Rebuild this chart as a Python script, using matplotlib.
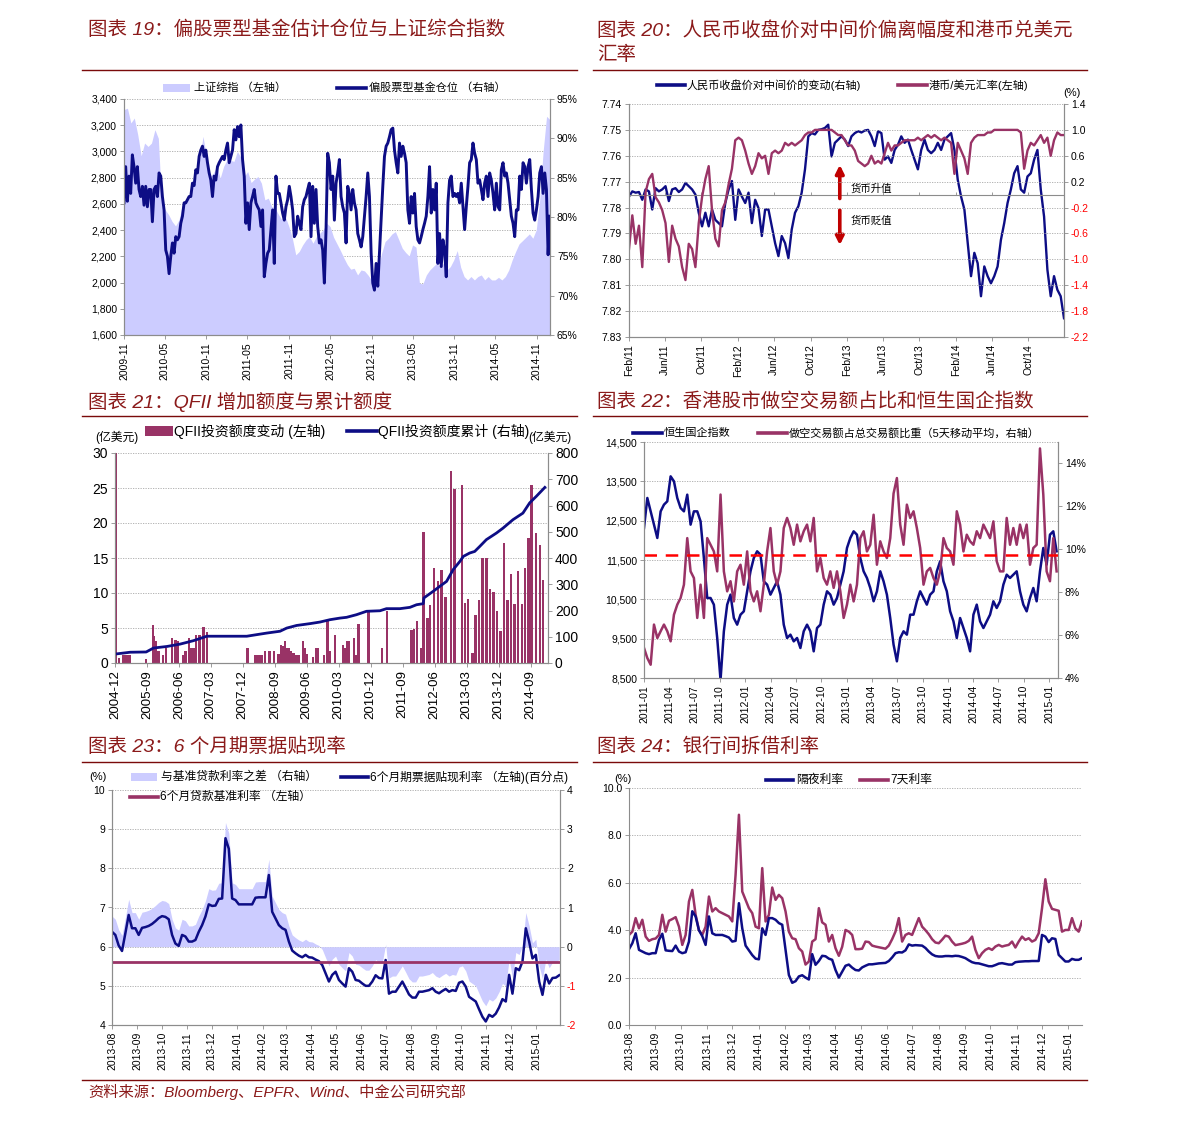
import numpy as np
import pandas as pd
import matplotlib
import matplotlib.pyplot as plt
import matplotlib.dates as mdates
from matplotlib.lines import Line2D
from matplotlib.patches import Rectangle

matplotlib.use('Agg')
plt.rcParams['font.family'] = ['Liberation Sans', 'Noto Sans CJK SC']
plt.rcParams['axes.unicode_minus'] = False

# ---------------- data ----------------
# Chart 19: Shanghai composite (semi-monthly) and equity fund position (weekly)
p19_sse = [3319, 3330, 3217, 3255, 3128, 2967, 3064, 3038, 3064, 3166,
           3100, 2580, 2555, 2517, 2466, 2432, 2478, 2593, 2631, 2652,
           2746, 2809, 2937, 3115, 2962, 2809, 2835, 2886, 2797, 2886,
           2937, 2932, 2924, 3000, 2955, 2809, 2847, 2763, 2789, 2809,
           2758, 2631, 2644, 2580, 2567, 2517, 2478, 2499, 2427, 2338,
           2211, 2237, 2287, 2326, 2351, 2300, 2351, 2377, 2402, 2453,
           2427, 2346, 2295, 2244, 2188, 2137, 2102, 2109, 2058, 2096,
           2089, 2058, 2020, 2020, 2109, 2224, 2313, 2338, 2371, 2389,
           2326, 2262, 2229, 2203, 2287, 2270, 1995, 1990, 2058, 2096,
           2122, 2147, 2122, 2147, 2096, 2122, 2173, 2244, 2117, 2046,
           2020, 2046, 2020, 2046, 2058, 2020, 2046, 2020, 2020, 2040,
           2020, 2046, 2096, 2173, 2237, 2295, 2320, 2346, 2371, 2338,
           2402, 2631, 3000, 3268, 3242]
p19_fund = [81.8, 86.4, 82.0, 85.2, 83.0, 87.9, 86.4, 84.3, 86.4, 83.5,
            82.6, 83.9, 81.5, 83.9, 81.3, 83.5, 83.5, 79.4, 83.5, 83.9,
            82.6, 85.6, 85.2, 82.6, 80.9, 75.8, 75.0, 72.8, 75.0, 76.7,
            75.4, 77.5, 77.1, 77.5, 79.2, 80.1, 81.8, 81.8, 82.2, 82.6,
            82.6, 84.3, 84.0, 86.0, 85.6, 87.7, 88.5, 89.0, 87.7, 88.5,
            86.9, 85.6, 84.7, 82.6, 85.2, 84.7, 86.4, 86.9, 87.3, 87.7,
            87.3, 88.5, 89.4, 86.9, 87.7, 88.5, 91.1, 89.8, 91.5, 90.2,
            91.7, 87.3, 85.2, 79.2, 81.8, 78.4, 81.8, 82.6, 83.5, 81.8,
            81.3, 80.9, 78.8, 80.9, 72.4, 74.1, 75.4, 75.8, 78.4, 80.9,
            74.1, 85.2, 83.0, 83.0, 81.8, 80.5, 79.6, 81.3, 82.2, 83.9,
            82.6, 80.9, 77.5, 77.9, 80.1, 79.2, 78.4, 81.3, 82.2, 82.6,
            83.5, 84.3, 77.5, 83.9, 79.2, 83.5, 78.8, 76.7, 77.1, 75.8,
            71.6, 78.4, 88.1, 86.9, 83.5, 85.2, 79.6, 84.3, 85.6, 87.3,
            82.6, 81.3, 80.5, 76.7, 83.9, 83.0, 80.9, 83.5, 81.8, 80.9,
            77.9, 77.1, 76.2, 77.5, 80.1, 82.6, 85.6, 82.6, 75.4, 71.6,
            70.7, 74.1, 71.2, 75.4, 79.6, 83.9, 87.7, 89.0, 89.4, 90.2,
            91.1, 91.3, 88.5, 86.9, 85.6, 89.4, 87.7, 89.0, 88.1, 86.9,
            80.9, 79.2, 82.6, 80.5, 83.0, 78.8, 77.1, 76.7, 77.5, 78.4,
            79.2, 80.1, 82.6, 86.4, 80.5, 83.5, 80.9, 84.3, 74.1, 77.9,
            73.7, 77.1, 75.8, 72.4, 81.8, 84.7, 85.2, 82.6, 83.0, 82.6,
            83.0, 81.8, 84.3, 81.3, 78.4, 81.3, 83.9, 86.9, 87.3, 89.4,
            88.1, 87.3, 84.3, 84.7, 83.5, 82.2, 84.3, 85.2, 82.6, 85.6,
            84.7, 83.0, 80.9, 84.3, 81.3, 80.9, 86.0, 86.9, 85.2, 85.6,
            84.3, 82.2, 80.1, 79.2, 77.5, 80.9, 80.9, 85.2, 83.5, 86.9,
            86.4, 84.3, 86.4, 87.3, 83.5, 80.5, 79.6, 80.9, 82.6, 85.6,
            86.4, 83.0, 85.6, 83.5, 75.2, 80.1]
p19_ticks = ['2009-11', '2010-05', '2010-11', '2011-05', '2011-11', '2012-05',
             '2012-11', '2013-05', '2013-11', '2014-05', '2014-11']

# Chart 20: RMB close vs fixing deviation (%), HKD/USD
p20_rmb = [-0.03, 0.05, 0.03, 0.04, -0.08, 0.08, 0.05, -0.23, 0.10, 0.05,
           0.08, 0.13, -0.10, 0.08, 0.10, 0.04, 0.08, 0.18, 0.13, 0.08,
           0.00, -0.28, -0.49, -0.28, -0.49, -0.23, -0.39, -0.44, -0.49, -0.13,
           0.08, 0.21, -0.39, 0.08, -0.03, -0.13, 0.03, -0.44, -0.08, -0.21,
           -0.64, -0.23, -0.23, -0.49, -0.75, -0.95, -0.64, -0.75, -0.98, -0.54,
           -0.28, -0.18, 0.03, 0.39, 0.90, 0.95, 0.93, 1.00, 1.01, 1.03,
           1.08, 0.59, 0.80, 0.85, 0.90, 0.85, 0.75, 0.90, 0.95, 0.98,
           0.96, 0.99, 1.00, 0.90, 0.75, 0.98, 0.95, 0.54, 0.59, 0.49,
           0.69, 0.77, 0.90, 0.80, 0.85, 0.69, 0.54, 0.39, 0.69, 0.85,
           0.69, 0.64, 0.69, 0.80, 0.69, 0.85, 0.90, 0.95, 0.69, 0.23,
           -0.03, -0.23, -0.75, -1.26, -0.90, -1.06, -1.57, -1.11, -1.26, -1.37,
           -1.26, -1.11, -0.70, -0.44, -0.13, 0.08, 0.33, 0.44, 0.08, 0.03,
           0.28, 0.33, 0.54, 0.69, 0.08, -0.34, -1.16, -1.57, -1.26, -1.47,
           -1.57, -1.91]
p20_hkd = [7.796, 7.783, 7.794, 7.787, 7.803, 7.774, 7.769, 7.767, 7.776, 7.778,
           7.781, 7.786, 7.801, 7.787, 7.792, 7.795, 7.803, 7.808, 7.794, 7.796,
           7.803, 7.786, 7.776, 7.769, 7.764, 7.781, 7.792, 7.795, 7.781, 7.778,
           7.771, 7.765, 7.754, 7.753, 7.754, 7.758, 7.763, 7.767, 7.764, 7.759,
           7.761, 7.760, 7.767, 7.759, 7.758, 7.759, 7.758, 7.755, 7.756, 7.755,
           7.756, 7.755, 7.754, 7.752, 7.751, 7.751, 7.750, 7.750, 7.750, 7.750,
           7.750, 7.750, 7.751, 7.752, 7.752, 7.754, 7.756, 7.756, 7.758, 7.762,
           7.763, 7.764, 7.763, 7.760, 7.763, 7.762, 7.763, 7.759, 7.755, 7.758,
           7.756, 7.756, 7.755, 7.754, 7.754, 7.754, 7.754, 7.753, 7.754, 7.753,
           7.752, 7.753, 7.752, 7.753, 7.754, 7.753, 7.754, 7.755, 7.767, 7.755,
           7.758, 7.761, 7.767, 7.755, 7.753, 7.752, 7.752, 7.752, 7.751, 7.751,
           7.750, 7.750, 7.750, 7.750, 7.750, 7.750, 7.750, 7.750, 7.751, 7.765,
           7.758, 7.755, 7.756, 7.754, 7.752, 7.755, 7.753, 7.760, 7.754, 7.751,
           7.752, 7.752]
p20_ticks = ['Feb/11', 'Jun/11', 'Oct/11', 'Feb/12', 'Jun/12', 'Oct/12',
             'Feb/13', 'Jun/13', 'Oct/13', 'Feb/14', 'Jun/14', 'Oct/14']

# Chart 21: QFII quota changes (bars) and cumulative quota (line)
p21_bar_dates = ['2004-12-06', '2005-01-07', '2005-02-13', '2005-03-03', '2005-03-20',
                 '2005-04-10', '2005-08-25', '2005-10-21', '2005-11-02', '2005-11-13',
                 '2005-11-27', '2005-12-11', '2006-01-15', '2006-02-13', '2006-04-01',
                 '2006-05-02', '2006-05-22', '2006-07-10', '2006-07-27', '2006-08-25',
                 '2006-09-14', '2006-10-04', '2006-10-27', '2006-11-25', '2006-12-29',
                 '2007-01-30', '2008-01-10', '2008-03-20', '2008-04-04', '2008-04-18',
                 '2008-05-02', '2008-05-16', '2008-06-09', '2008-07-18', '2008-08-22',
                 '2008-10-01', '2008-10-24', '2008-11-07', '2008-11-25', '2008-12-11',
                 '2009-01-01', '2009-01-15', '2009-02-07', '2009-02-21', '2009-03-09',
                 '2009-03-26', '2009-04-29', '2009-05-16', '2009-06-03', '2009-07-27',
                 '2009-08-19', '2009-09-05', '2009-10-29', '2009-11-27', '2009-12-17',
                 '2010-01-29', '2010-04-09', '2010-04-23', '2010-05-16', '2010-05-27',
                 '2010-07-09', '2010-07-29', '2010-08-18', '2010-11-13', '2011-03-06',
                 '2011-04-18', '2011-11-16', '2011-12-06', '2012-01-01', '2012-02-10',
                 '2012-02-27', '2012-04-01', '2012-04-23', '2012-05-27', '2012-07-01',
                 '2012-07-29', '2012-09-02', '2012-10-17', '2012-11-18', '2013-01-20',
                 '2013-02-15', '2013-03-16', '2013-04-20', '2013-05-18', '2013-06-16',
                 '2013-07-17', '2013-08-18', '2013-09-16', '2013-10-17', '2013-11-15',
                 '2013-12-16', '2014-01-17', '2014-02-15', '2014-03-16', '2014-04-17',
                 '2014-05-18', '2014-06-19', '2014-07-17', '2014-08-15', '2014-09-10',
                 '2014-10-17', '2014-11-18', '2014-12-19']
p21_bar_vals = [30, 0.7, 1.2, 1.2, 1.2, 1.2, 0.6, 5.4, 3.8, 3.1,
                1.7, 1.7, 1.1, 2.1, 3.6, 3.3, 3.1, 1.1, 1.7, 3.6,
                2.1, 2.1, 4.0, 4.0, 5.1, 4.5, 2.1, 1.1, 1.1, 1.0,
                1.1, 1.2, 1.7, 1.7, 1.7, 1.3, 2.6, 2.4, 3.1, 2.1,
                2.1, 1.7, 1.4, 1.2, 1.1, 1.1, 3.1, 2.1, 1.3, 0.8,
                2.1, 2.1, 1.1, 6.0, 1.7, 4.0, 2.6, 2.1, 3.1, 3.1,
                3.6, 1.2, 5.6, 7.4, 2.1, 7.4, 4.7, 4.9, 6.0, 2.1,
                18.7, 6.4, 8.3, 13.6, 11.7, 13.3, 9.5, 27.5, 24.8, 25.5,
                8.6, 9.1, 1.4, 6.9, 9.0, 15.0, 15.0, 10.6, 10.2, 7.5,
                4.6, 17.2, 9.0, 12.7, 8.5, 13.1, 8.4, 13.6, 17.9, 25.5,
                18.6, 16.9, 11.9]
p21_cum_dates = ['2004-12-01', '2005-04-10', '2005-08-25', '2005-10-27', '2006-02-19',
                 '2006-06-12', '2006-10-04', '2007-01-27', '2008-01-04', '2008-03-29',
                 '2008-06-23', '2008-10-15', '2008-12-11', '2009-03-06', '2009-06-29',
                 '2009-09-22', '2009-12-17', '2010-03-11', '2010-05-08', '2010-08-01',
                 '2010-10-26', '2011-02-18', '2011-04-15', '2011-08-08', '2011-11-02',
                 '2011-12-29', '2012-02-24', '2012-03-01', '2012-05-19', '2012-07-15',
                 '2012-09-11', '2012-11-07', '2013-01-03', '2013-02-01', '2013-03-28',
                 '2013-05-10', '2013-06-22', '2013-08-18', '2013-11-12', '2014-01-08',
                 '2014-04-03', '2014-06-27', '2014-08-24', '2014-10-20', '2015-01-01']
p21_cum_vals = [34, 41, 42, 57, 63, 72, 85, 102, 102, 108,
                114, 121, 133, 143, 150, 156, 165, 171, 174, 184,
                197, 199, 207, 207, 212, 222, 226, 248, 273, 292,
                311, 356, 387, 406, 419, 425, 444, 470, 495, 514,
                546, 571, 610, 635, 669]

# Chart 22: HSCEI and short-selling turnover share (%)
p22_hscei = [12314, 13077, 12737, 12399, 12060, 12737, 12907, 12992, 13627, 13500,
             13077, 12822, 12737, 13161, 12399, 12737, 12737, 12483, 11551, 10534,
             10534, 10365, 9517, 8450, 9687, 10365, 10619, 10025, 9856, 10110,
             10195, 10704, 11212, 11551, 11721, 11636, 10958, 10873, 10619, 10789,
             10958, 10619, 9856, 9517, 9602, 9432, 9517, 9263, 9687, 9856,
             9687, 9178, 9771, 9856, 10365, 10704, 10619, 10365, 10534, 10873,
             11212, 11805, 12060, 12229, 12144, 11551, 11212, 11043, 10789, 10450,
             10704, 11212, 10958, 10619, 10025, 9348, 8924, 9517, 9687, 9602,
             10110, 10110, 10450, 10704, 10534, 10365, 10619, 10704, 11212, 11466,
             10958, 10704, 10195, 9941, 9517, 10025, 9771, 9517, 9178, 10110,
             10365, 9941, 9771, 9941, 10110, 10450, 10280, 10450, 10873, 11127,
             11043, 11127, 11212, 10704, 10365, 10195, 10534, 10789, 10450, 11212,
             11805, 11381, 12144, 12229, 11721]
p22_short = [5.40, 4.93, 4.62, 6.49, 5.86, 6.18, 6.49, 6.18, 5.71, 6.95,
             7.42, 7.73, 8.35, 10.52, 8.97, 8.66, 6.80, 8.35, 6.80, 10.52,
             10.21, 9.90, 8.97, 12.55, 8.97, 8.04, 8.51, 7.57, 8.97, 9.28,
             8.35, 9.90, 8.04, 7.57, 8.04, 7.11, 8.35, 9.90, 10.99, 8.97,
             8.35, 8.97, 10.99, 11.46, 10.99, 10.21, 11.15, 10.37, 10.84, 11.15,
             10.37, 11.46, 8.97, 9.59, 8.66, 8.35, 8.97, 8.20, 8.97, 8.04,
             6.80, 7.42, 8.35, 7.57, 8.35, 10.52, 10.84, 9.90, 10.21, 11.61,
             9.28, 10.37, 9.90, 9.59, 10.52, 12.60, 13.32, 11.15, 10.21, 12.08,
             11.46, 11.77, 10.99, 10.06, 8.35, 8.97, 9.13, 8.66, 8.35, 8.97,
             10.52, 10.06, 9.90, 9.28, 11.77, 11.15, 9.90, 10.68, 10.37, 10.21,
             10.84, 10.52, 11.15, 10.84, 10.52, 11.30, 9.44, 8.97, 8.97, 11.46,
             10.21, 10.99, 10.21, 11.15, 10.52, 11.15, 9.28, 10.06, 10.21, 14.70,
             12.55, 8.97, 8.51, 10.52, 8.97]
p22_short_avg = 9.75

# Chart 23: 6-month bill discount rate, 6-month lending rate
p23_bill = [6.38, 6.30, 6.03, 5.89, 6.34, 6.81, 6.47, 6.47, 6.30, 6.48,
            6.50, 6.53, 6.58, 6.65, 6.73, 6.78, 6.76, 6.70, 6.30, 6.08,
            6.02, 6.30, 6.26, 6.13, 6.13, 6.17, 6.38, 6.55, 6.77, 7.08,
            7.04, 7.05, 7.22, 7.23, 8.77, 8.50, 7.23, 7.19, 7.08, 7.08,
            7.08, 7.08, 7.08, 7.25, 7.26, 7.26, 7.26, 7.83, 6.89, 6.72,
            6.55, 6.47, 6.43, 6.13, 5.90, 5.83, 5.77, 5.73, 5.79, 5.73,
            5.72, 5.67, 5.63, 5.53, 5.32, 5.11, 5.28, 5.36, 5.15, 5.06,
            4.98, 5.45, 5.36, 5.15, 5.13, 5.06, 5.00, 5.00, 5.11, 5.27,
            5.20, 5.19, 5.66, 4.80, 4.85, 4.85, 4.98, 5.11, 4.95, 4.78,
            4.70, 4.70, 4.85, 4.85, 4.87, 4.89, 4.94, 4.85, 4.81, 4.87,
            4.92, 4.85, 4.89, 4.87, 5.08, 5.11, 4.98, 4.72, 4.66, 4.60,
            4.40, 4.21, 4.09, 4.26, 4.21, 4.29, 4.45, 4.66, 4.60, 5.28,
            4.80, 5.45, 5.40, 5.62, 6.47, 6.13, 5.70, 5.79, 5.11, 4.77,
            5.28, 5.06, 5.20, 5.21, 5.27]
p23_lending = 5.6

# Chart 24: interbank overnight and 7-day rates
p24_overnight = [3.20, 3.45, 3.87, 3.17, 3.10, 3.03, 2.99, 3.03, 3.03, 3.59,
                 3.85, 3.15, 3.13, 3.12, 3.35, 3.10, 3.03, 3.07, 3.52, 4.80,
                 4.58, 4.00, 3.75, 3.38, 4.58, 3.87, 3.80, 3.80, 3.80, 3.75,
                 3.69, 3.52, 3.55, 5.14, 4.08, 3.35, 3.15, 2.95, 2.80, 2.77,
                 4.08, 3.80, 4.51, 4.51, 4.44, 4.30, 4.23, 3.17, 2.11, 1.78,
                 1.85, 2.05, 2.10, 2.00, 1.92, 2.99, 2.54, 2.70, 2.92, 2.90,
                 2.80, 2.75, 2.32, 2.00, 2.25, 2.50, 2.55, 2.42, 2.32, 2.30,
                 2.43, 2.50, 2.56, 2.56, 2.58, 2.60, 2.61, 2.62, 2.70, 2.85,
                 3.03, 3.07, 3.06, 3.15, 3.40, 3.35, 3.37, 3.36, 3.35, 3.25,
                 3.10, 2.98, 2.91, 2.89, 2.89, 2.91, 2.91, 2.90, 2.92, 2.91,
                 2.87, 2.82, 2.73, 2.65, 2.61, 2.60, 2.56, 2.52, 2.48, 2.48,
                 2.53, 2.59, 2.61, 2.58, 2.55, 2.55, 2.65, 2.67, 2.68, 2.69,
                 2.69, 2.70, 2.70, 2.70, 3.80, 3.73, 3.50, 3.66, 3.63, 2.96,
                 2.82, 2.68, 2.68, 2.79, 2.75, 2.75, 2.82]
p24_7day = [3.80, 3.94, 4.51, 4.08, 4.44, 3.73, 3.55, 3.62, 3.65, 3.80,
            4.65, 3.94, 4.40, 4.47, 4.55, 4.15, 3.38, 3.80, 5.21, 5.70,
            4.65, 4.00, 3.80, 4.15, 5.42, 4.79, 4.93, 4.79, 4.72, 4.65,
            4.58, 4.37, 6.34, 8.87, 5.63, 5.28, 4.93, 4.72, 4.15, 4.08,
            6.62, 4.37, 4.65, 5.80, 5.28, 5.49, 5.35, 4.79, 3.94, 3.66,
            3.62, 3.24, 3.10, 2.55, 2.68, 3.52, 3.62, 4.93, 4.33, 4.23,
            3.52, 3.80, 3.24, 2.92, 3.30, 4.01, 3.94, 3.80, 3.20, 3.20,
            3.22, 3.52, 3.50, 3.35, 3.31, 3.28, 3.25, 3.22, 3.35, 3.62,
            3.94, 4.51, 3.52, 3.80, 3.87, 3.80, 4.15, 4.51, 4.15, 4.00,
            3.83, 3.62, 3.48, 3.45, 3.60, 3.77, 3.73, 3.52, 3.37, 3.40,
            3.43, 3.47, 3.55, 3.73, 3.17, 2.82, 3.03, 3.17, 3.24, 3.17,
            3.31, 3.38, 3.31, 3.35, 3.38, 3.52, 3.27, 3.52, 3.73, 3.59,
            3.66, 3.52, 3.59, 3.87, 4.93, 6.15, 5.21, 4.90, 4.86, 4.82,
            3.94, 4.01, 4.01, 4.51, 4.08, 3.94, 4.37]

# ---------------- style ----------------
W, H = 1191, 1121
NAVY = '#0d0d85'
PLUM = '#993366'
LAV = '#ccccff'
DARKRED = '#8b1a1a'
RULE = '#7a0a0a'
GRID = '#a8a8a8'
SPINE = '#8c8c8c'
ARROW = '#c00000'

fig = plt.figure(figsize=(W / 100, H / 100), dpi=100)
fig.patch.set_facecolor('white')


def fx(x):
    return x / W


def fy(y):
    return 1 - y / H


def box(left, top, right, bottom):
    return fig.add_axes([left / W, 1 - bottom / H, (right - left) / W, (bottom - top) / H])


def dnum(values):
    return mdates.date2num(pd.to_datetime(values).values)


def drange(start, end, n):
    return mdates.date2num(pd.date_range(start, end, periods=n).values)


def title(x, y, s):
    fig.text(fx(x), fy(y), s, fontsize=14, style='italic', color=DARKRED,
             va='center', ha='left')


def rule(x0, x1, y):
    fig.add_artist(Line2D([fx(x0), fx(x1)], [fy(y), fy(y)], color=RULE, lw=1.0))


def leg_line(x0, x1, y, color):
    fig.add_artist(Line2D([fx(x0), fx(x1)], [fy(y), fy(y)], color=color, lw=2.6))


def leg_patch(x0, x1, y, color, h=8):
    fig.add_artist(Rectangle((fx(x0), fy(y + h / 2)), (x1 - x0) / W, h / H,
                             facecolor=color, lw=0))


def ftext(x, y, s, size=8, ha='left', color='black'):
    fig.text(fx(x), fy(y), s, fontsize=size, va='center', ha=ha, color=color)


def style(ax, size=7.5, grid=True):
    ax.spines['top'].set_visible(False)
    for s in ['left', 'right', 'bottom']:
        ax.spines[s].set_color(SPINE)
        ax.spines[s].set_linewidth(0.8)
    ax.tick_params(axis='both', length=3, width=0.6, color=SPINE,
                   labelsize=size, pad=2)
    if grid:
        ax.grid(axis='y', color=GRID, ls=(0, (1.5, 1.5)), lw=0.6)
        ax.set_axisbelow(True)


def xdates(ax, starts, labels, size=7.5):
    ax.set_xticks(dnum(starts))
    ax.set_xticklabels(labels, rotation=90, fontsize=size)


def color_neg(ax, ticks):
    for lbl, v in zip(ax.get_yticklabels(), ticks):
        lbl.set_color('red' if v < 0 else 'black')


# ---------------- chart 19 ----------------
title(88, 30, '图表 19：偏股票型基金估计仓位与上证综合指数')
rule(82, 577, 70)
ax = box(124, 99, 550, 335)
x_sse = drange('2009-11-01', '2014-12-30', len(p19_sse))
x_fund = drange('2009-11-01', '2014-12-29', len(p19_fund))
ax.fill_between(x_sse, 1600, p19_sse, color=LAV, lw=0)
ax.set_ylim(1600, 3400)
t = list(range(1600, 3401, 200))
ax.set_yticks(t)
ax.set_yticklabels([f'{v:,}' for v in t])
ax.set_xlim(dnum(['2009-11-01'])[0], dnum(['2014-12-30'])[0])
style(ax)
xdates(ax, [s + '-01' for s in p19_ticks], p19_ticks)
ax2 = ax.twinx()
ax2.plot(x_fund, p19_fund, color=NAVY, lw=2.1)
ax2.set_ylim(65, 95)
t = list(range(65, 96, 5))
ax2.set_yticks(t)
ax2.set_yticklabels([f'{v}%' for v in t])
style(ax2, grid=False)
leg_patch(163, 190, 88, LAV)
ftext(194, 88, '上证综指 （左轴）')
leg_line(337, 366, 88, NAVY)
ftext(369, 88, '偏股票型基金仓位 （右轴）')

# ---------------- chart 20 ----------------
title(597, 30, '图表 20：人民币收盘价对中间价偏离幅度和港币兑美元')
title(597, 55, '汇率')
rule(593, 1087, 70)
ax = box(629, 104, 1064, 337)
x20 = drange('2011-02-01', '2015-01-28', len(p20_rmb))
ax.plot(x20, p20_hkd, color=PLUM, lw=1.7)
ax.set_ylim(7.83, 7.74)
t = np.round(np.arange(7.74, 7.8351, 0.01), 2)
ax.set_yticks(t)
ax.set_yticklabels([f'{v:.2f}' for v in t])
ax.set_xlim(x20[0], x20[-1])
style(ax)
p20_starts = pd.date_range('2011-02-01', periods=len(p20_ticks), freq='4MS')
xdates(ax, p20_starts, p20_ticks)
ax2 = ax.twinx()
ax2.plot(x20, p20_rmb, color=NAVY, lw=1.7)
ax2.set_ylim(-2.2, 1.4)
t = np.round(np.arange(-2.2, 1.41, 0.4), 1)
ax2.set_yticks(t)
ax2.set_yticklabels([f'{v:.1f}' for v in t])
color_neg(ax2, t)
style(ax2, grid=False)
ax2.axhline(0, color=SPINE, lw=0.8)
ax2.vlines(dnum(p20_starts), 0, 0.04, color=SPINE, lw=0.6)
xa = dnum(['2013-01-07'])[0]
ax2.annotate('', xy=(xa, 0.46), xytext=(xa, -0.06),
             arrowprops=dict(arrowstyle='-|>', color=ARROW, lw=2.6,
                             mutation_scale=12, shrinkA=0, shrinkB=0))
ax2.annotate('', xy=(xa, -0.78), xytext=(xa, -0.24),
             arrowprops=dict(arrowstyle='-|>', color=ARROW, lw=2.6,
                             mutation_scale=12, shrinkA=0, shrinkB=0))
xt = dnum(['2013-02-12'])[0]
ax2.text(xt, 0.10, '货币升值', fontsize=7.5, va='center')
ax2.text(xt, -0.40, '货币贬值', fontsize=7.5, va='center')
ax.set_zorder(ax2.get_zorder() + 1)
ax.patch.set_visible(False)
leg_line(657, 685, 85, NAVY)
ftext(687, 85, '人民币收盘价对中间价的变动(右轴)')
leg_line(898, 927, 85, PLUM)
ftext(929, 85, '港币/美元汇率(左轴)')
ftext(1072, 93, '(%)', ha='center')

# ---------------- chart 21 ----------------
title(88, 402, '图表 21：QFII 增加额度与累计额度')
rule(82, 577, 416)
ax = box(115, 453, 548, 663)
ax.bar(dnum(p21_bar_dates), p21_bar_vals, width=20, color=PLUM, lw=0)
ax.set_ylim(0, 30)
ax.set_yticks(range(0, 31, 5))
ax.set_xlim(dnum(['2004-12-01'])[0], dnum(['2015-01-28'])[0])
style(ax, size=10)
p21_starts = pd.date_range('2004-12-01', periods=14, freq='9MS')
xdates(ax, p21_starts, [d.strftime('%Y-%m') for d in p21_starts], size=9.5)
ax2 = ax.twinx()
ax2.plot(dnum(p21_cum_dates), p21_cum_vals, color=NAVY, lw=2.0)
ax2.set_ylim(0, 800)
ax2.set_yticks(range(0, 801, 100))
style(ax2, size=10, grid=False)
leg_patch(145, 173, 431, PLUM, h=10)
ftext(174, 431, 'QFII投资额度变动 (左轴)', size=10)
leg_line(347, 377, 431, NAVY)
ftext(378, 431, 'QFII投资额度累计 (右轴)', size=10)
ftext(95, 437, '(亿美元)', size=8.5)
ftext(528, 437, '(亿美元)', size=8.5)

# ---------------- chart 22 ----------------
title(597, 402, '图表 22：香港股市做空交易额占比和恒生国企指数')
rule(593, 1087, 416)
ax = box(644, 442, 1058, 678)
x22 = drange('2011-01-01', '2015-01-27', len(p22_hscei))
ax.plot(x22, p22_hscei, color=NAVY, lw=1.8)
ax.set_ylim(8500, 14500)
t = list(range(8500, 14501, 1000))
ax.set_yticks(t)
ax.set_yticklabels([f'{v:,}' for v in t])
ax.set_xlim(x22[0], dnum(['2015-02-01'])[0])
style(ax)
p22_starts = pd.date_range('2011-01-01', periods=17, freq='3MS')
xdates(ax, p22_starts, [d.strftime('%Y-%m') for d in p22_starts])
ax2 = ax.twinx()
ax2.plot(x22, p22_short, color=PLUM, lw=1.8)
ax2.axhline(p22_short_avg, color='red', lw=1.8, ls=(0, (5, 3.5)))
ax2.set_ylim(4, 15)
t = list(range(4, 15, 2))
ax2.set_yticks(t)
ax2.set_yticklabels([f'{v}%' for v in t])
style(ax2, grid=False)
leg_line(633, 662, 433, NAVY)
ftext(664, 433, '恒生国企指数')
leg_line(758, 787, 433, PLUM)
ftext(789, 433, '做空交易额占总交易额比重（5天移动平均，右轴）')

# ---------------- chart 23 ----------------
title(88, 747, '图表 23：6 个月期票据贴现率')
rule(82, 577, 762)
ax = box(112, 790, 560, 1025)
x23 = drange('2013-08-01', '2015-01-29', len(p23_bill))
bill = np.array(p23_bill)
ax2 = ax.twinx()
ax2.fill_between(x23, 0, bill - p23_lending, color=LAV, lw=0)
ax2.set_ylim(-2, 4)
t = list(range(-2, 5))
ax2.set_yticks(t)
ax2.set_yticklabels([str(v) for v in t])
color_neg(ax2, t)
style(ax2)
ax.plot(x23, bill, color=NAVY, lw=1.8)
ax.axhline(p23_lending, color=PLUM, lw=2.0)
ax.set_ylim(4, 10)
ax.set_yticks(range(4, 11))
ax.set_xlim(x23[0], dnum(['2015-01-30'])[0])
style(ax, grid=False)
p23_starts = pd.date_range('2013-08-01', periods=18, freq='MS')
xdates(ax, p23_starts, [d.strftime('%Y-%m') for d in p23_starts])
ax.set_zorder(ax2.get_zorder() + 1)
ax.patch.set_visible(False)
ftext(98, 777, '(%)', ha='center')
leg_patch(131, 157, 777, LAV)
ftext(161, 777, '与基准贷款利率之差 （右轴）', size=8.5)
leg_line(341, 368, 777, NAVY)
ftext(370, 777, '6个月期票据贴现利率 （左轴)(百分点)', size=8.5)
leg_line(130, 158, 797, PLUM)
ftext(160, 797, '6个月贷款基准利率 （左轴）', size=8.5)

# ---------------- chart 24 ----------------
title(597, 747, '图表 24：银行间拆借利率')
rule(593, 1087, 762)
ax = box(629, 788, 1082, 1025)
x24 = drange('2013-08-01', '2015-01-17', len(p24_overnight))
ax.plot(x24, p24_7day, color=PLUM, lw=1.8)
ax.plot(x24, p24_overnight, color=NAVY, lw=1.8)
ax.set_ylim(0, 10)
t = list(range(0, 11, 2))
ax.set_yticks(t)
ax.set_yticklabels([f'{v:.1f}' for v in t])
ax.set_xlim(x24[0], x24[-1])
style(ax)
ax.spines['right'].set_visible(False)
p24_starts = pd.date_range('2013-08-01', periods=18, freq='MS')
xdates(ax, p24_starts, [d.strftime('%Y-%m') for d in p24_starts])
ftext(623, 779, '(%)', ha='center')
leg_line(766, 793, 780, NAVY)
ftext(796, 780, '隔夜利率', size=8.5)
leg_line(860, 888, 780, PLUM)
ftext(890, 780, '7天利率', size=8.5)

# ---------------- footer ----------------
rule(82, 1087, 1080)
fig.text(fx(88), fy(1092), '资料来源：Bloomberg、EPFR、Wind、中金公司研究部',
         fontsize=11, style='italic', color=DARKRED, va='center')

fig.savefig('out.png', dpi=100)
